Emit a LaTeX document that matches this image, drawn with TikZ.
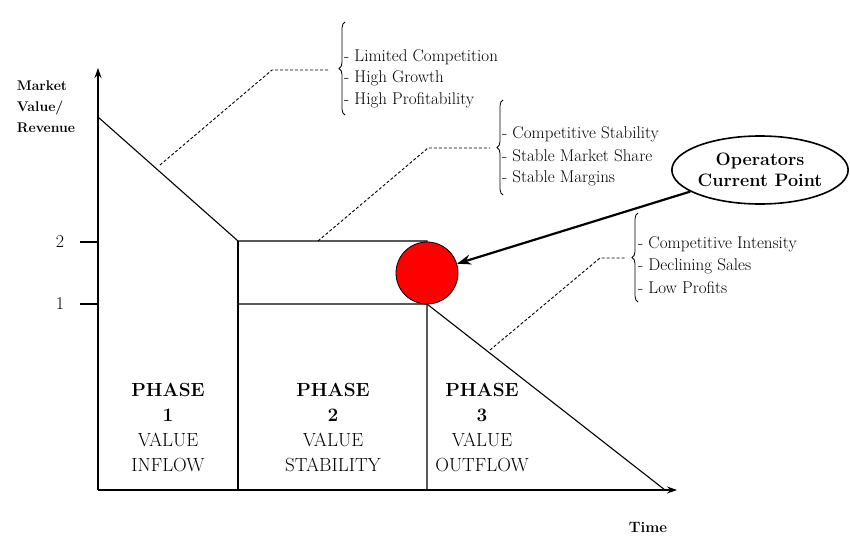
\documentclass[tikz,border=0pt]{standalone}
\usepackage{fontspec}
\setmainfont{Latin Modern Roman}
\usetikzlibrary{decorations.pathreplacing,shapes.geometric,arrows.meta}
\begin{document}
\begin{tikzpicture}[x=1pt,y=-1pt,
  ln/.style={line width=1.1pt},
  ld/.style={dash pattern=on 3pt off 2pt,line width=0.9pt},
  br/.style={decorate,decoration={brace,amplitude=6pt},line width=0.8pt},
  lst/.style={anchor=west,font=\fontsize{17}{19}\selectfont,inner sep=0pt},
  ph/.style={anchor=north,align=center,font=\fontsize{19}{25}\selectfont}]
\useasboundingbox (0,0) rectangle (850,554);
% axes
\coordinate (o) at (98,490);
\coordinate (ytop) at (98,68);
\coordinate (xend) at (677,490);
\draw[ln,-{Stealth[length=10pt,width=7pt]}] (o) -- (ytop);
\draw[ln,-{Stealth[length=10pt,width=7pt]}] (o) -- (xend);
\draw[ln] (80,242) -- (98,242) (80,304) -- (98,304);
\node[font=\fontsize{18}{18}\selectfont] (t2) at (60,242) {2};
\node[font=\fontsize{18}{18}\selectfont] (t1) at (60,304) {1};
\node[align=left,font=\bfseries\fontsize{14}{21}\selectfont] (yl) at (46,107) {Market\\Value/\\Revenue};
\node[font=\bfseries\fontsize{15}{16}\selectfont] (xl) at (648,527) {Time};
% curve
\draw[ln] (98,117) -- (238,241) -- (427,241) -- (427,490);
\draw[ln] (238,241) -- (238,490);
\draw[ln] (238,304) -- (427,304) -- (665,490);
% dashed leaders & braces
\draw[ld] (160,165) -- (272,70) -- (330,70);
\draw[br] (345,115) -- (345,22);
\node[lst] (a1) at (344,57) {- Limited Competition};
\node[lst] (a2) at (344,78) {- High Growth};
\node[lst] (a3) at (344,100) {- High Profitability};
\draw[ld] (318,241) -- (428,148) -- (490,148);
\draw[br] (503,195) -- (503,100);
\node[lst] (b1) at (502,134) {- Competitive Stability};
\node[lst] (b2) at (502,156) {- Stable Market Share};
\node[lst] (b3) at (502,178) {- Stable Margins};
\draw[ld] (490,350) -- (600,258) -- (625,258);
\draw[br] (638,302) -- (638,213);
\node[lst] (c1) at (638,244) {- Competitive Intensity};
\node[lst] (c2) at (638,266) {- Declining Sales};
\node[lst] (c3) at (638,288) {- Low Profits};
% point
\node[circle,draw,line width=0.8pt,fill=red,minimum size=62pt,inner sep=0pt] (pt) at (427,273) {};
\node[ellipse,draw,line width=1.6pt,minimum width=130pt,minimum height=68pt,align=center,inner sep=0pt,font=\bfseries\fontsize{18}{21}\selectfont] (op) at (760,170) {Operators\\Current Point};
\draw[line width=2.2pt,-{Stealth[length=14pt,width=10pt]}] (op) -- (pt);
% phases
\node[ph] (p1) at (168,380) {\textbf{PHASE}\\\textbf{1}\\VALUE\\INFLOW};
\node[ph] (p2) at (333,380) {\textbf{PHASE}\\\textbf{2}\\VALUE\\STABILITY};
\node[ph] (p3) at (482,380) {\textbf{PHASE}\\\textbf{3}\\VALUE\\OUTFLOW};
\end{tikzpicture}
\end{document}
